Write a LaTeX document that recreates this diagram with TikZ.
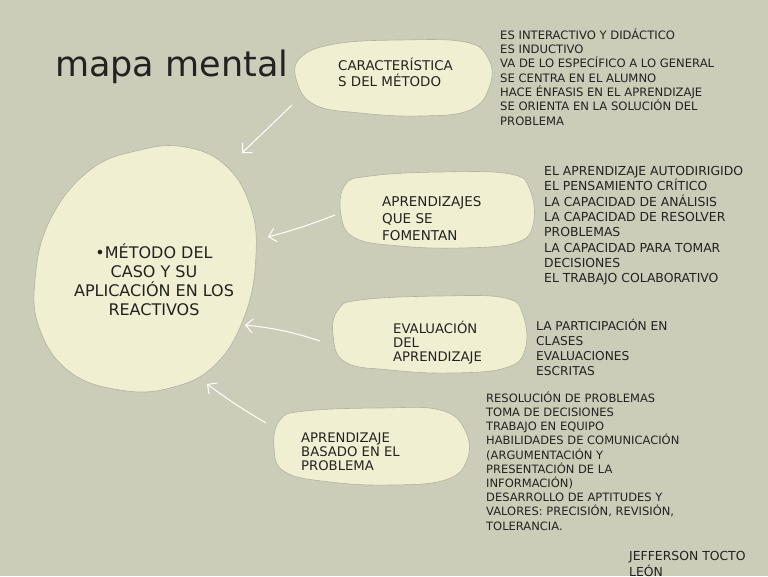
\documentclass[tikz,border=0pt]{standalone}
\usepackage{fontspec}
\setmainfont{DejaVu Sans}
\usetikzlibrary{arrows.meta}
\definecolor{fondo}{RGB}{204,205,184}
\definecolor{burbuja}{RGB}{241,239,210}
\definecolor{borde}{RGB}{178,178,158}
\definecolor{tinta}{RGB}{34,34,34}

\begin{document}
\begin{tikzpicture}[x=1pt, y=-1pt,
            blob/.style={fill=burbuja, draw=borde, line width=0.6pt},
            arr/.style={draw=white, line width=1pt, -{Straight Barb[length=7pt,width=14pt]}},
            every node/.style={text=tinta, inner sep=0pt},
            lista/.style={anchor=base west, align=left}]
            \fill[fondo] (0,0) rectangle (768,576);
            \useasboundingbox (0,0) rectangle (768,576);

            \draw[blob] plot[smooth cycle, tension=0.7] coordinates {(185,147) (225,165) (250,205) (256,255) (245,315) (215,365) (170,388) (120,390) (70,372) (40,330) (35,280) (50,220) (90,170) (140,150)};
            \draw[blob] plot[smooth cycle, tension=0.7] coordinates {(300,58) (335,44) (400,40) (465,42) (488,58) (490,85) (470,110) (420,116) (360,113) (315,105) (297,82)};
            \draw[blob] plot[smooth cycle, tension=0.7] coordinates {(345,185) (370,176) (440,172) (510,174) (530,190) (533,225) (515,243) (460,248) (400,246) (355,238) (341,215)};
            \draw[blob] plot[smooth cycle, tension=0.7] coordinates {(338,310) (360,300) (440,296) (505,298) (523,315) (525,350) (505,368) (450,373) (390,370) (345,362) (333,335)};
            \draw[blob] plot[smooth cycle, tension=0.7] coordinates {(280,420) (305,411) (380,408) (440,410) (465,430) (467,460) (445,480) (390,485) (330,482) (285,472) (274,448)};

            \node[anchor=base west, font=\fontsize{35}{40}\selectfont] (titulo) at (55,76) {mapa mental};

            \node[anchor=base, align=center, font=\fontsize{16}{19}\selectfont] (metodo) at (154,315.8) {•MÉTODO DEL\\CASO Y SU\\APLICACIÓN EN LOS\\REACTIVOS};

            \node[lista, font=\fontsize{13.4}{16}\selectfont] (carac) at (338,86.8) {CARACTERÍSTICA\\S DEL MÉTODO};
            \node[lista, font=\fontsize{13.5}{17}\selectfont] (aprend) at (382,240) {APRENDIZAJES\\QUE SE\\FOMENTAN};
            \node[lista, font=\fontsize{13.2}{14}\selectfont] (evalua) at (393,361.8) {EVALUACIÓN\\DEL\\APRENDIZAJE};
            \node[lista, font=\fontsize{13.2}{14}\selectfont] (abp) at (301,470.8) {APRENDIZAJE\\BASADO EN EL\\PROBLEMA};

            \node[lista, font=\fontsize{11.6}{14.3}\selectfont] (lcarac) at (500,125) {ES INTERACTIVO Y DIDÁCTICO\\ES INDUCTIVO\\VA DE LO ESPECÍFICO A LO GENERAL\\SE CENTRA EN EL ALUMNO\\HACE ÉNFASIS EN EL APRENDIZAJE\\SE ORIENTA EN LA SOLUCIÓN DEL\\PROBLEMA};
            \node[lista, font=\fontsize{12.4}{15.3}\selectfont] (laprend) at (544,282.6) {EL APRENDIZAJE AUTODIRIGIDO\\EL PENSAMIENTO CRÍTICO\\LA CAPACIDAD DE ANÁLISIS\\LA CAPACIDAD DE RESOLVER\\PROBLEMAS\\LA CAPACIDAD PARA TOMAR\\DECISIONES\\EL TRABAJO COLABORATIVO};
            \node[lista, font=\fontsize{12.2}{15}\selectfont] (levalua) at (536,375.5) {LA PARTICIPACIÓN EN\\CLASES\\EVALUACIONES\\ESCRITAS};
            \node[lista, font=\fontsize{11.5}{14.2}\selectfont] (labp) at (486,530) {RESOLUCIÓN DE PROBLEMAS\\TOMA DE DECISIONES\\TRABAJO EN EQUIPO\\HABILIDADES DE COMUNICACIÓN\\(ARGUMENTACIÓN Y\\PRESENTACIÓN DE LA\\INFORMACIÓN)\\DESARROLLO DE APTITUDES Y\\VALORES: PRECISIÓN, REVISIÓN,\\TOLERANCIA.};

            \node[lista, font=\fontsize{12.4}{16}\selectfont] (autor) at (629,576.5) {JEFFERSON TOCTO\\LEÓN};

            \coordinate (a1) at (292,105);
            \coordinate (b1) at (242,153);
            \coordinate (a2) at (335,215);
            \coordinate (b2) at (268,237);
            \coordinate (a3) at (320,341);
            \coordinate (b3) at (245,325);
            \coordinate (a4) at (266,423);
            \coordinate (b4) at (207,384);

            \draw[arr] (a1) -- (b1);
            \draw[arr] (a2) to[bend left=3] (b2);
            \draw[arr] (a3) to[bend right=6] (b3);
            \draw[arr] (a4) to[bend left=3] (b4);
\end{tikzpicture}
\end{document}
